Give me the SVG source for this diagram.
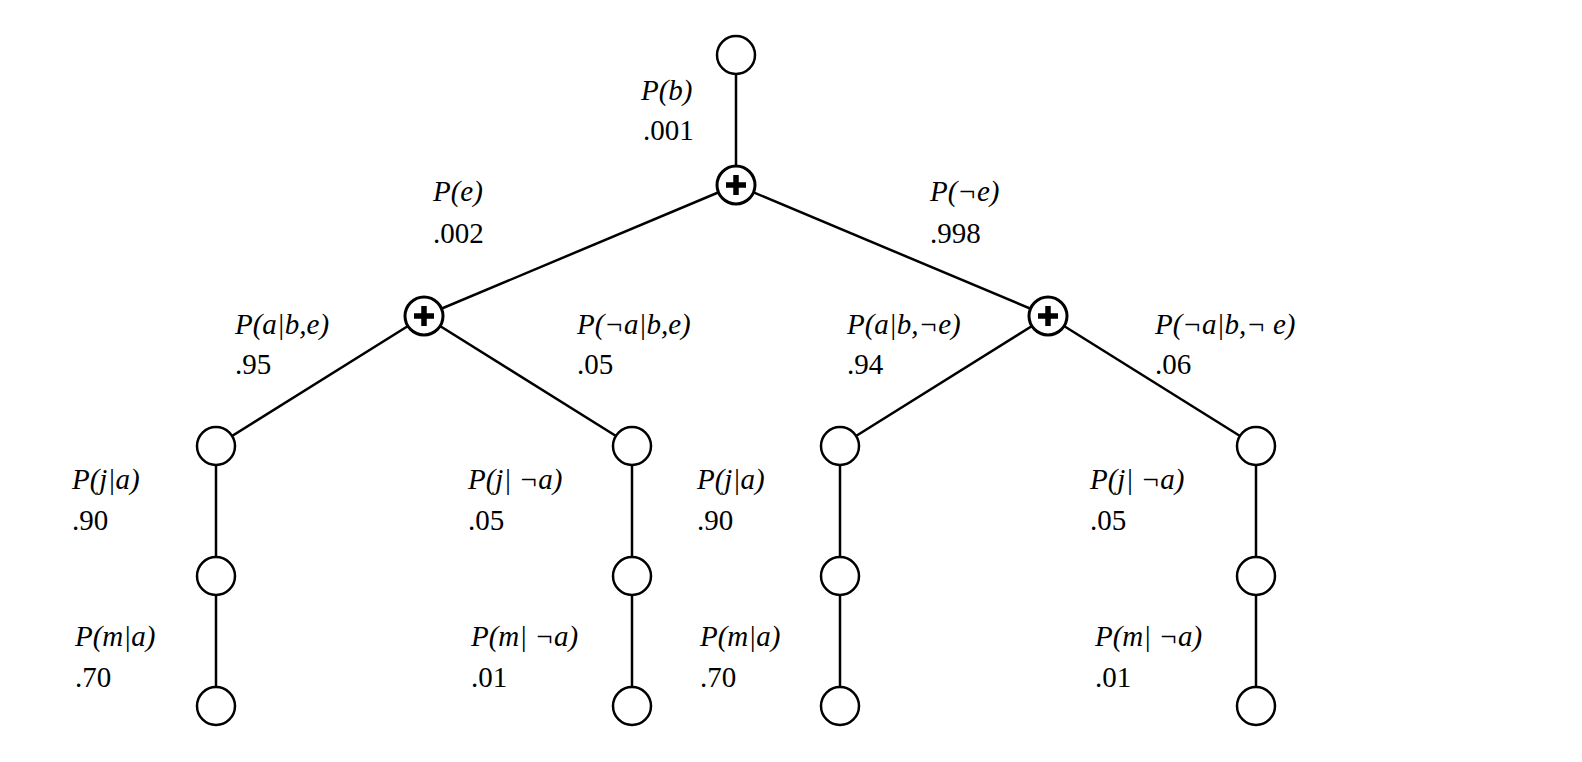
<svg xmlns="http://www.w3.org/2000/svg" width="1582" height="762" viewBox="0 0 1582 762">
<style>
.e{stroke:#000;stroke-width:2.5;fill:none}
.n{fill:#fff;stroke:#000;stroke-width:2.5}
.p{fill:#fff;stroke:#000;stroke-width:3}
.pl{stroke:#000;stroke-width:5.5;fill:none}
text{font-family:"Liberation Serif",serif;font-size:29px;fill:#000}
.i{font-style:italic}
</style>
<rect width="1582" height="762" fill="#fff"/>
<g id="connectors">
<line class="e" x1="736" y1="55" x2="736" y2="185"/>
<line class="e" x1="736" y1="185" x2="424" y2="316"/>
<line class="e" x1="736" y1="185" x2="1048" y2="316"/>
<line class="e" x1="424" y1="316" x2="216" y2="446"/>
<line class="e" x1="424" y1="316" x2="632" y2="446"/>
<line class="e" x1="1048" y1="316" x2="840" y2="446"/>
<line class="e" x1="1048" y1="316" x2="1256" y2="446"/>
<line class="e" x1="216" y1="446" x2="216" y2="706"/>
<line class="e" x1="632" y1="446" x2="632" y2="706"/>
<line class="e" x1="840" y1="446" x2="840" y2="706"/>
<line class="e" x1="1256" y1="446" x2="1256" y2="706"/>
</g>
<g id="root"><circle class="n" cx="736" cy="55" r="19"/></g>
<g id="plus1"><circle class="p" cx="736" cy="185" r="19"/><path class="pl" d="M736 175v20M726 185h20"/></g>
<g id="plus2"><circle class="p" cx="424" cy="316" r="19"/><path class="pl" d="M424 306v20M414 316h20"/></g>
<g id="plus3"><circle class="p" cx="1048" cy="316" r="19"/><path class="pl" d="M1048 306v20M1038 316h20"/></g>
<g id="n1"><circle class="n" cx="216" cy="446" r="19"/></g>
<g id="n2"><circle class="n" cx="632" cy="446" r="19"/></g>
<g id="n3"><circle class="n" cx="840" cy="446" r="19"/></g>
<g id="n4"><circle class="n" cx="1256" cy="446" r="19"/></g>
<g id="n5"><circle class="n" cx="216" cy="576" r="19"/></g>
<g id="n6"><circle class="n" cx="632" cy="576" r="19"/></g>
<g id="n7"><circle class="n" cx="840" cy="576" r="19"/></g>
<g id="n8"><circle class="n" cx="1256" cy="576" r="19"/></g>
<g id="n9"><circle class="n" cx="216" cy="706" r="19"/></g>
<g id="n10"><circle class="n" cx="632" cy="706" r="19"/></g>
<g id="n11"><circle class="n" cx="840" cy="706" r="19"/></g>
<g id="n12"><circle class="n" cx="1256" cy="706" r="19"/></g>
<g id="labels">
<text class="i" x="641" y="100">P(b)</text><text x="643" y="140">.001</text>
<text class="i" x="433" y="201">P(e)</text><text x="433" y="243">.002</text>
<text class="i" x="930" y="201">P(¬e)</text><text x="930" y="243">.998</text>
<text class="i" x="235" y="334">P(a|b,e)</text><text x="235" y="374">.95</text>
<text class="i" x="577" y="334">P(¬a|b,e)</text><text x="577" y="374">.05</text>
<text class="i" x="847" y="334">P(a|b,¬e)</text><text x="847" y="374">.94</text>
<text class="i" x="1155" y="334">P(¬a|b,¬ e)</text><text x="1155" y="374">.06</text>
<text class="i" x="72" y="489">P(j|a)</text><text x="72" y="530">.90</text>
<text class="i" x="468" y="489">P(j| ¬a)</text><text x="468" y="530">.05</text>
<text class="i" x="697" y="489">P(j|a)</text><text x="697" y="530">.90</text>
<text class="i" x="1090" y="489">P(j| ¬a)</text><text x="1090" y="530">.05</text>
<text class="i" x="75" y="646">P(m|a)</text><text x="75" y="687">.70</text>
<text class="i" x="471" y="646">P(m| ¬a)</text><text x="471" y="687">.01</text>
<text class="i" x="700" y="646">P(m|a)</text><text x="700" y="687">.70</text>
<text class="i" x="1095" y="646">P(m| ¬a)</text><text x="1095" y="687">.01</text>
</g>
</svg>
